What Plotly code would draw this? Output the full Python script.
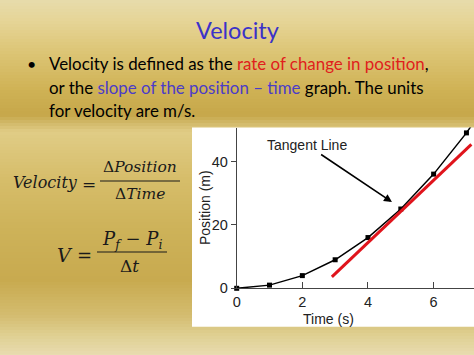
import numpy as np
import plotly.graph_objects as go

# ---- data ----
time_s = [0, 1, 2, 3, 4, 5, 6, 7, 8]
position_m = [0, 1, 4, 9, 16, 25, 36, 49, 64]
tangent_t = [2.9, 7.15]
tangent_pos = [3.6, 45.4]
x_ticks = [0, 2, 4, 6]
y_ticks = [0, 20, 40]

W, H = 474, 355

def px(x):
    return x / W

def py(y):
    return (H - y) / H

fig = go.Figure()
# position-time curve (line clipped to the plot area)
fig.add_trace(go.Scatter(x=time_s, y=position_m, mode="lines",
                         line=dict(color="black", width=1.5), hoverinfo="skip"))
# square markers for the visible measurements
fig.add_trace(go.Scatter(x=time_s[:8], y=position_m[:8], mode="markers",
                         marker=dict(symbol="square", size=5, color="black"),
                         cliponaxis=False, hoverinfo="skip"))
# tangent line
fig.add_trace(go.Scatter(x=tangent_t, y=tangent_pos, mode="lines",
                         line=dict(color="#e0141c", width=3), hoverinfo="skip"))

# ---- slide background gradient ----
stops_y = [0, 20, 50, 90, 115, 124, 132, 180, 230, 280, 315, 335, 355]
stops_c = ["#e7dcab", "#e6d598", "#ddc677", "#cfb255", "#c6a74a", "#d3bb6c",
           "#e0cc86", "#d6bd69", "#cdb259", "#c8aa4f", "#d3bc6f", "#dfcf91", "#e8dcb0"]

def hex2rgb(h):
    return [int(h[i:i + 2], 16) for i in (1, 3, 5)]

rgb = np.array([hex2rgb(c) for c in stops_c], dtype=float)
shapes = []
step = 3
for y0 in range(0, H, step):
    yc = y0 + step / 2
    col = [np.interp(yc, stops_y, rgb[:, k]) for k in range(3)]
    shapes.append(dict(type="rect", xref="paper", yref="paper",
                       x0=0, x1=1, y0=max(py(y0 + step + 0.5), 0), y1=py(y0),
                       fillcolor="rgb(%d,%d,%d)" % tuple(int(round(v)) for v in col),
                       line=dict(width=0), layer="below"))
# white chart panel
shapes.append(dict(type="rect", xref="paper", yref="paper",
                   x0=px(192), x1=1, y0=py(326.7), y1=py(127.5),
                   fillcolor="white", line=dict(width=0), layer="below"))
# fraction bars
shapes.append(dict(type="line", xref="paper", yref="paper",
                   x0=px(100), x1=px(180), y0=py(181), y1=py(181),
                   line=dict(color="#1a1a1a", width=1.2)))
shapes.append(dict(type="line", xref="paper", yref="paper",
                   x0=px(97), x1=px(167), y0=py(252), y1=py(252),
                   line=dict(color="#1a1a1a", width=1.2)))

annotations = []
sans = "Lato"
serif = "DejaVu Serif"

def ann(text, x, y, size, color="black", family=sans, xanchor="center", **kw):
    d = dict(text=text, xref="paper", yref="paper", x=px(x), y=py(y),
             xanchor=xanchor, yanchor="middle", showarrow=False,
             font=dict(family=family, size=size, color=color))
    d.update(kw)
    annotations.append(d)

ann("Velocity", 237, 30, 23.5, color="#3b32c8")
ann("•", 31, 64, 16)
ann('Velocity is defined as the <span style="color:#e0201c">rate of change in position</span>,',
    47, 64, 16.9, xanchor="left")
ann('or the <span style="color:#4b3cc8">slope of the position – time</span> graph. The units',
    47, 87, 16.9, xanchor="left")
ann("for velocity are m/s.", 47, 110, 16.9, xanchor="left")

# equations
ann("<i>Velocity</i>", 45.5, 182, 16, family=serif, color="#1a1a1a")
ann("=", 89, 184, 17, family=serif, color="#1a1a1a")
ann("Δ<i>Position</i>", 140, 167, 15.5, family=serif, color="#1a1a1a")
ann("Δ<i>Time</i>", 140, 194, 15.5, family=serif, color="#1a1a1a")
ann("<i>V</i>", 65, 255, 19, family=serif, color="#1a1a1a")
ann("=", 84, 256, 18, family=serif, color="#1a1a1a")
ann("<i>P<sub>f</sub></i> − <i>P<sub>i</sub></i>", 132, 240, 18, family=serif, color="#1a1a1a")
ann("Δ<i>t</i>", 129, 266, 17, family=serif, color="#1a1a1a")

# chart axis titles
ann("Time (s)", 328, 319, 14, family="Liberation Sans", color="#222")
ann("Position (m)", 205, 208, 14, family="Liberation Sans", color="#222", textangle=-90)

# tangent line pointer
annotations.append(dict(text="Tangent Line", x=4.73, y=27.2, xref="x", yref="y",
                        ax=-85, ay=-57, axref="pixel", ayref="pixel",
                        showarrow=True, arrowhead=2, arrowsize=1, arrowwidth=1.6,
                        arrowcolor="black",
                        font=dict(family="Liberation Sans", size=14, color="#222")))

fig.update_layout(
    width=W, height=H, margin=dict(l=0, r=0, t=0, b=0, pad=0, autoexpand=False),
    paper_bgcolor="#d6bf6c", plot_bgcolor="rgba(0,0,0,0)",
    showlegend=False, shapes=shapes, annotations=annotations,
    xaxis=dict(domain=[px(236.7), 1], range=[0, 7.23], tickvals=x_ticks,
               ticks="inside", ticklen=6, tickcolor="#444", showgrid=False,
               zeroline=False, showline=True, linecolor="#444", linewidth=1,
               tickfont=dict(family="Liberation Sans", size=14.5, color="#222")),
    yaxis=dict(domain=[py(288.3), py(127.5)], range=[0, 50.7], tickvals=y_ticks,
               ticks="outside", ticklen=5, tickcolor="#444", showgrid=False,
               zeroline=False, showline=True, linecolor="#444", linewidth=1,
               tickfont=dict(family="Liberation Sans", size=14.5, color="#222")),
)

fig.write_html("out.html", post_script="document.body.style.margin='0';",
               config={"displayModeBar": False})
